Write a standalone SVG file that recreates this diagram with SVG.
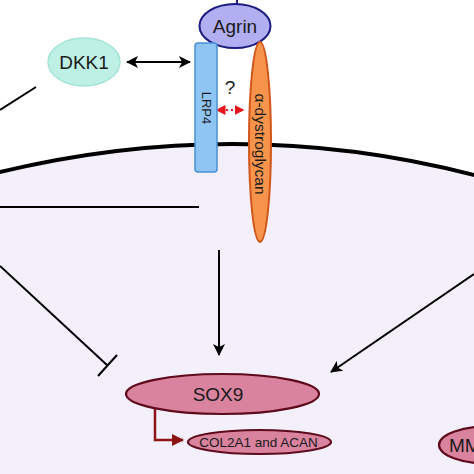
<svg xmlns="http://www.w3.org/2000/svg" width="474" height="474" viewBox="0 0 474 474">
<defs>
<style>
.t{font-family:"Liberation Sans",Arial,sans-serif;fill:#1a1a1a;text-anchor:middle}
.ln{stroke:#000;stroke-width:2;fill:none}
.pk{fill:#d9839f;stroke:#5e0b1c;stroke-width:2.2}
</style>
<marker id="ab" viewBox="0 0 12 12" refX="11" refY="6" markerWidth="12" markerHeight="12" markerUnits="userSpaceOnUse" orient="auto-start-reverse"><path d="M0,0 L12,6 L0,12 L3,6 Z" fill="#000"/></marker>
<marker id="ar" viewBox="0 0 10 10" refX="9.5" refY="5" markerWidth="10" markerHeight="11" markerUnits="userSpaceOnUse" orient="auto-start-reverse"><path d="M0,0 L10,5 L0,10 Z" fill="#e8141e"/></marker>
<marker id="am" viewBox="0 0 12 12" refX="11" refY="6" markerWidth="14" markerHeight="12" markerUnits="userSpaceOnUse" orient="auto"><path d="M0,0 L12,6 L0,12 Z" fill="#8b1414"/></marker>
</defs>
<rect width="474" height="474" fill="#fff"/>
<path d="M0,172 Q240,114 474,175 L474,474 L0,474 Z" fill="#f3effb"/>
<path d="M-2,172.5 Q240,114 476,175.5" stroke="#000" stroke-width="4" fill="none"/>
<g id="connectors">
<line class="ln" x1="0" y1="110" x2="36" y2="87"/>
<line class="ln" x1="0" y1="207" x2="199" y2="207"/>
<line class="ln" x1="127" y1="62" x2="190" y2="62" marker-start="url(#ab)" marker-end="url(#ab)"/>
<line stroke="#e8141e" stroke-width="2" stroke-dasharray="2,3" x1="216" y1="110" x2="244" y2="110" marker-start="url(#ar)" marker-end="url(#ar)"/>
<line class="ln" x1="219" y1="250" x2="219" y2="355" marker-end="url(#ab)"/>
<line class="ln" x1="0" y1="266" x2="107.5" y2="365.5"/>
<line class="ln" x1="98" y1="376" x2="117" y2="355"/>
<line class="ln" x1="474" y1="274" x2="331" y2="372" marker-end="url(#ab)"/>
<path d="M155,408 V440 H183" stroke="#8b1414" stroke-width="2.5" fill="none" marker-end="url(#am)"/>
<line x1="237" y1="0" x2="237" y2="4" stroke="#1c1c80" stroke-width="2"/>
</g>
<g id="dkk1">
<ellipse cx="84" cy="62" rx="36" ry="24" fill="#bff0e6" stroke="#a6e4d8" stroke-width="1.5"/>
<text class="t" x="84" y="69" font-size="19">DKK1</text>
</g>
<g id="agrin">
<ellipse cx="235" cy="26" rx="35.5" ry="22" fill="#b1aff2" stroke="#1c1c80" stroke-width="2"/>
<text class="t" x="235" y="33" font-size="19">Agrin</text>
</g>
<g id="lrp4">
<rect x="195" y="43" width="22" height="129" rx="3" fill="#8ec5f2" stroke="#4b8fd6" stroke-width="1.5"/>
<text class="t" transform="translate(206,108) rotate(90)" y="4.5" font-size="13">LRP4</text>
</g>
<g id="dystroglycan">
<ellipse cx="260" cy="142" rx="11" ry="100" fill="#f7944c" stroke="#d2561a" stroke-width="2"/>
<text class="t" transform="translate(260,144) rotate(90)" y="5" font-size="15.5">α-dystroglycan</text>
</g>
<text class="t" x="230" y="94" font-size="19">?</text>
<g id="sox9">
<ellipse class="pk" cx="222.5" cy="394" rx="96.5" ry="20"/>
<text class="t" x="218" y="401" font-size="19">SOX9</text>
</g>
<g id="col2a1">
<ellipse class="pk" cx="259.5" cy="442" rx="71.5" ry="12"/>
<text class="t" x="258.5" y="447" font-size="13.5">COL2A1 and ACAN</text>
</g>
<g id="mmp">
<ellipse class="pk" cx="492" cy="445" rx="53" ry="19"/>
<text class="t" x="449" y="452" font-size="19" style="text-anchor:start">MM</text>
</g>
</svg>
